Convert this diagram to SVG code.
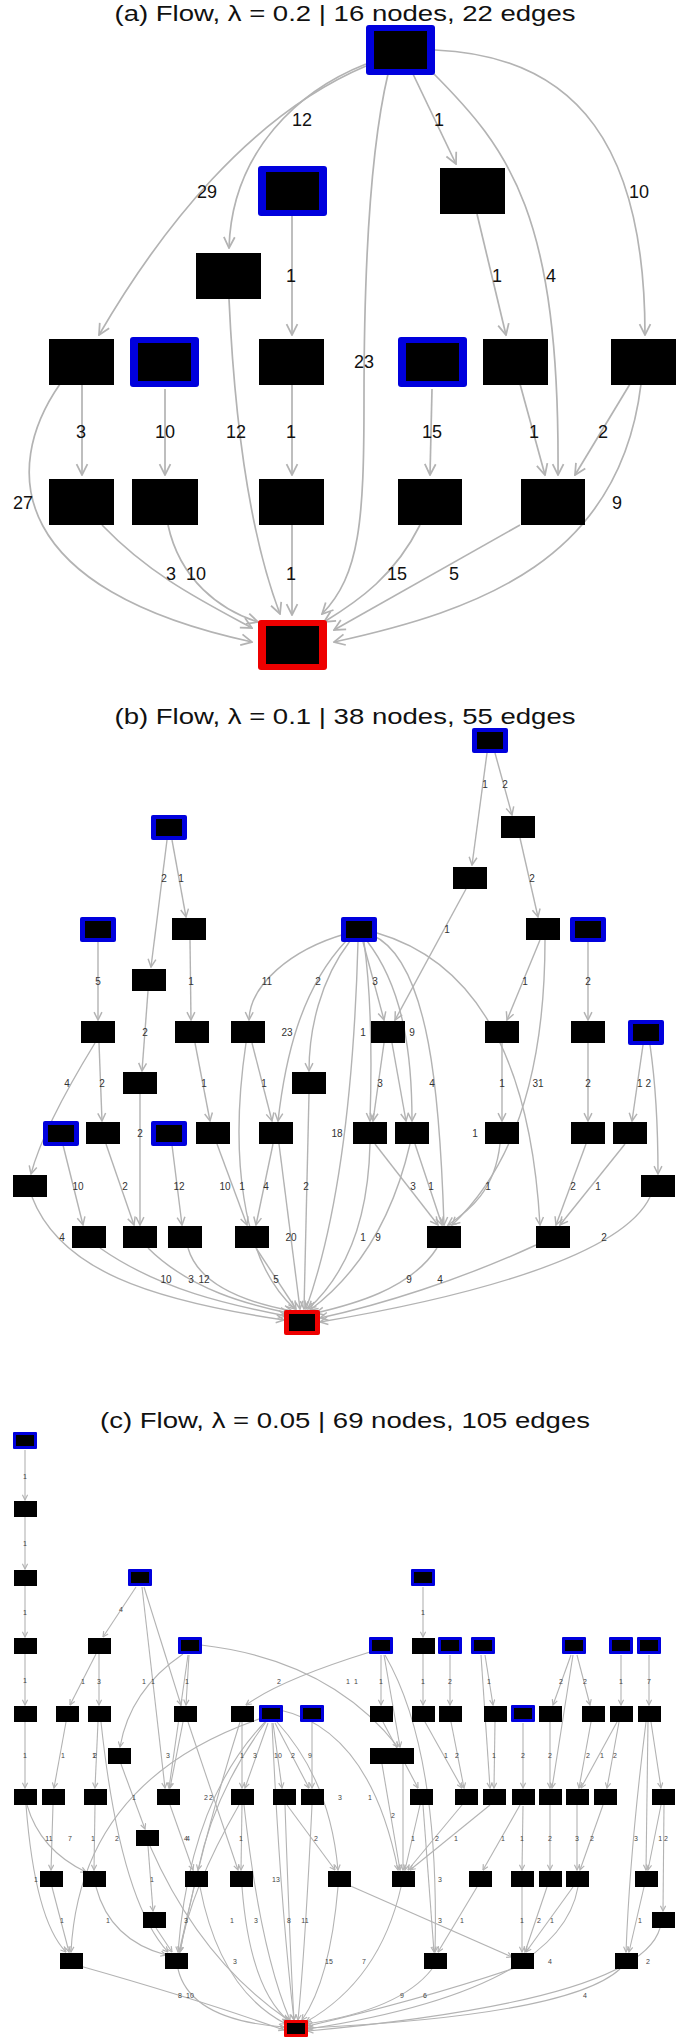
<svg xmlns="http://www.w3.org/2000/svg" width="691" height="2038" viewBox="0 0 691 2038">
<style>
.e{fill:none;stroke:#b3b3b3}
.ea{stroke-width:1.7;marker-end:url(#ma)}
.eb{stroke-width:1.4;marker-end:url(#mb)}
.ec{stroke-width:1.1;marker-end:url(#mc)}
text{font-family:"Liberation Sans",Arial,sans-serif;text-anchor:middle;dominant-baseline:central}
.t{font-size:22px;fill:#111}
.la{font-size:18px;fill:#111}
.lb{font-size:10px;fill:#333}
.lc{font-size:7px;fill:#444}
.k{fill:#000}
.bl{fill:#0000dd}
.rd{fill:#ee0000}
</style>
<defs>
<marker id="ma" viewBox="0 0 10 10" refX="9" refY="5" markerWidth="8" markerHeight="8" orient="auto" markerUnits="strokeWidth"><path d="M1,1 L9,5 L1,9" fill="none" stroke="#b3b3b3" stroke-width="1.3"/></marker>
<marker id="mb" viewBox="0 0 10 10" refX="9" refY="5" markerWidth="7" markerHeight="7" orient="auto" markerUnits="strokeWidth"><path d="M1,1 L9,5 L1,9" fill="none" stroke="#b3b3b3" stroke-width="1.5"/></marker>
<marker id="mc" viewBox="0 0 10 10" refX="9" refY="5" markerWidth="6" markerHeight="6" orient="auto" markerUnits="strokeWidth"><path d="M1,1 L9,5 L1,9" fill="none" stroke="#b3b3b3" stroke-width="1.8"/></marker>
</defs>
<rect width="691" height="2038" fill="#fff"/>
<text class="t" x="345" y="13" textLength="461" lengthAdjust="spacingAndGlyphs">(a) Flow, λ = 0.2 | 16 nodes, 22 edges</text>
<text class="t" x="345" y="716" textLength="461" lengthAdjust="spacingAndGlyphs">(b) Flow, λ = 0.1 | 38 nodes, 55 edges</text>
<text class="t" x="345" y="1420" textLength="490" lengthAdjust="spacingAndGlyphs">(c) Flow, λ = 0.05 | 69 nodes, 105 edges</text>

<g id="edges-a" class="e ea">
<path d="M366,64 C300,90 232,150 229,248"/>
<path d="M413,74 L456,164"/>
<path d="M366,66 C250,115 160,230 99,335"/>
<path d="M435,50 C580,56 645,150 645,335"/>
<path d="M388,74 C370,150 364,270 364,400 C364,520 360,575 322,614"/>
<path d="M432,72 C510,150 560,215 558,475"/>
<path d="M292,216 L292,335"/>
<path d="M229,299 C235,430 250,535 280,614"/>
<path d="M477,214 L506,335"/>
<path d="M82,384 L82,475"/>
<path d="M60,384 C0,470 10,590 252,642"/>
<path d="M165,389 L165,475"/>
<path d="M292,384 L292,475"/>
<path d="M432,389 L430,475"/>
<path d="M520,384 L545,475"/>
<path d="M630,384 L575,475"/>
<path d="M641,384 C620,560 480,610 334,642"/>
<path d="M102,525 C150,575 200,600 252,628"/>
<path d="M168,525 C180,580 220,610 258,622"/>
<path d="M292,525 L292,615"/>
<path d="M420,525 C395,575 360,600 324,622"/>
<path d="M520,525 L334,630"/>
</g>
<g id="labels-a" class="la">
<text x="302" y="120">12</text><text x="439" y="120">1</text><text x="207" y="192">29</text><text x="639" y="192">10</text>
<text x="291" y="276">1</text><text x="497" y="276">1</text><text x="551" y="276">4</text><text x="364" y="362">23</text>
<text x="81" y="432">3</text><text x="165" y="432">10</text><text x="236" y="432">12</text><text x="291" y="432">1</text>
<text x="432" y="432">15</text><text x="534" y="432">1</text><text x="603" y="432">2</text>
<text x="23" y="503">27</text><text x="617" y="503">9</text>
<text x="171" y="574">3</text><text x="196" y="574">10</text><text x="291" y="574">1</text><text x="397" y="574">15</text><text x="454" y="574">5</text>
</g>
<g id="a-top"><rect class="bl" x="366" y="25" width="69" height="50" rx="3"/><rect class="k" x="374" y="31" width="53" height="38"/></g>
<g id="a-b3"><rect class="bl" x="258" y="166" width="69" height="50" rx="3"/><rect class="k" x="266" y="172" width="53" height="38"/></g>
<g id="a-n472"><rect class="k" x="440" y="168" width="65" height="46"/></g>
<g id="a-n228"><rect class="k" x="196" y="253" width="65" height="46"/></g>
<g id="a-r1"><rect class="k" x="49" y="339" width="65" height="46"/></g>
<g id="a-r2"><rect class="bl" x="130" y="337" width="69" height="50" rx="3"/><rect class="k" x="138" y="343" width="53" height="38"/></g>
<g id="a-r3"><rect class="k" x="259" y="339" width="65" height="46"/></g>
<g id="a-r4"><rect class="bl" x="398" y="337" width="69" height="50" rx="3"/><rect class="k" x="406" y="343" width="53" height="38"/></g>
<g id="a-r5"><rect class="k" x="483" y="339" width="65" height="46"/></g>
<g id="a-r6"><rect class="k" x="611" y="339" width="65" height="46"/></g>
<g id="a-s1"><rect class="k" x="49" y="479" width="65" height="46"/></g>
<g id="a-s2"><rect class="k" x="132" y="479" width="66" height="46"/></g>
<g id="a-s3"><rect class="k" x="259" y="479" width="65" height="46"/></g>
<g id="a-s4"><rect class="k" x="398" y="479" width="64" height="46"/></g>
<g id="a-s5"><rect class="k" x="521" y="479" width="64" height="46"/></g>
<g id="a-sink"><rect class="rd" x="258" y="620" width="69" height="50" rx="3"/><rect class="k" x="266" y="626" width="53" height="38"/></g>

<g id="edges-b" class="e eb">
<path d="M487,753 L472,865"/><path d="M495,753 L512,815"/><path d="M167,840 L151,967"/><path d="M172,840 L186,917"/>
<path d="M520,838 L538,917"/><path d="M466,889 L395,1020"/><path d="M98,942 L98,1020"/><path d="M190,940 L191,1020"/>
<path d="M345,934 C290,950 250,985 249,1020"/><path d="M350,941 C320,980 309,1030 309,1071"/><path d="M363,942 L384,1020"/>
<path d="M540,940 L507,1020"/><path d="M588,942 L588,1020"/>
<path d="M346,941 C300,990 285,1060 278,1121"/><path d="M364,942 C372,1000 372,1060 370,1121"/>
<path d="M367,941 C405,990 412,1060 412,1121"/><path d="M372,935 C430,960 440,1100 444,1225"/>
<path d="M358,942 C355,1050 345,1200 306,1309"/><path d="M377,933 C470,960 530,1050 540,1225"/>
<path d="M545,940 C545,1100 500,1180 452,1225"/><path d="M588,1043 L588,1121"/><path d="M643,1045 L632,1121"/>
<path d="M650,1045 C658,1100 658,1150 658,1174"/><path d="M95,1043 C60,1100 40,1140 31,1174"/><path d="M99,1043 L102,1121"/>
<path d="M195,1043 L210,1121"/><path d="M252,1043 L272,1121"/><path d="M246,1043 C230,1150 240,1260 295,1309"/>
<path d="M392,1043 L406,1121"/><path d="M502,1043 L502,1121"/><path d="M148,991 L142,1071"/><path d="M140,1094 L140,1225"/>
<path d="M309,1094 L304,1309"/><path d="M63,1145 L83,1225"/><path d="M106,1144 L134,1225"/><path d="M172,1145 L182,1225"/>
<path d="M217,1144 L247,1225"/><path d="M273,1144 L256,1225"/><path d="M279,1144 L300,1309"/><path d="M375,1144 L438,1225"/>
<path d="M415,1144 L442,1225"/><path d="M500,1144 C495,1190 470,1210 448,1225"/><path d="M586,1144 L556,1225"/>
<path d="M625,1144 L560,1225"/><path d="M370,1144 C368,1230 340,1280 308,1309"/><path d="M410,1144 C390,1230 350,1280 310,1310"/>
<path d="M32,1197 C60,1270 150,1300 284,1320"/><path d="M100,1248 C160,1290 230,1305 286,1316"/>
<path d="M148,1248 C190,1290 250,1305 288,1313"/><path d="M188,1248 C200,1290 260,1305 292,1311"/>
<path d="M256,1248 L296,1309"/><path d="M437,1248 C410,1290 350,1305 316,1313"/><path d="M536,1245 C460,1280 380,1305 320,1318"/>
<path d="M650,1197 C620,1260 450,1300 320,1322"/><path d="M384,1043 L373,1121"/>
</g>
<g id="labels-b" class="lb">
<text x="485" y="784">1</text><text x="505" y="784">2</text><text x="164" y="878">2</text><text x="181" y="878">1</text><text x="532" y="878">2</text>
<text x="447" y="929">1</text><text x="98" y="981">5</text><text x="191" y="981">1</text><text x="267" y="981">11</text><text x="318" y="981">2</text>
<text x="375" y="981">3</text><text x="525" y="981">1</text><text x="588" y="981">2</text><text x="145" y="1032">2</text><text x="287" y="1032">23</text>
<text x="363" y="1032">1</text><text x="412" y="1032">9</text><text x="67" y="1083">4</text><text x="102" y="1083">2</text><text x="204" y="1083">1</text>
<text x="264" y="1083">1</text><text x="380" y="1083">3</text><text x="432" y="1083">4</text><text x="502" y="1083">1</text><text x="538" y="1083">31</text>
<text x="588" y="1083">2</text><text x="644" y="1083">1 2</text><text x="140" y="1133">2</text><text x="337" y="1133">18</text><text x="475" y="1133">1</text>
<text x="78" y="1186">10</text><text x="125" y="1186">2</text><text x="179" y="1186">12</text><text x="225" y="1186">10</text><text x="242" y="1186">1</text>
<text x="266" y="1186">4</text><text x="306" y="1186">2</text><text x="413" y="1186">3</text><text x="431" y="1186">1</text><text x="488" y="1186">1</text>
<text x="573" y="1186">2</text><text x="598" y="1186">1</text><text x="62" y="1237">4</text><text x="291" y="1237">20</text><text x="363" y="1237">1</text>
<text x="378" y="1237">9</text><text x="604" y="1237">2</text><text x="166" y="1279">10</text><text x="191" y="1279">3</text><text x="204" y="1279">12</text>
<text x="276" y="1279">5</text><text x="409" y="1279">9</text><text x="440" y="1279">4</text>
</g>
<g id="b-nodes">
<g id="b1"><rect class="bl" x="472" y="728" width="36" height="25" rx="2"/><rect class="k" x="477" y="732" width="26" height="17"/></g>
<g id="b2"><rect class="k" x="501" y="816" width="34" height="22"/></g>
<g id="b3"><rect class="bl" x="151" y="815" width="36" height="25" rx="2"/><rect class="k" x="156" y="819" width="26" height="17"/></g>
<g id="b4"><rect class="k" x="453" y="867" width="34" height="22"/></g>
<g id="b5"><rect class="bl" x="80" y="917" width="36" height="25" rx="2"/><rect class="k" x="85" y="921" width="26" height="17"/></g>
<g id="b6"><rect class="k" x="172" y="918" width="34" height="22"/></g>
<g id="b7"><rect class="bl" x="341" y="917" width="36" height="25" rx="2"/><rect class="k" x="346" y="921" width="26" height="17"/></g>
<g id="b8"><rect class="k" x="526" y="918" width="34" height="22"/></g>
<g id="b9"><rect class="bl" x="570" y="917" width="36" height="25" rx="2"/><rect class="k" x="575" y="921" width="26" height="17"/></g>
<g id="b10"><rect class="k" x="132" y="969" width="34" height="22"/></g>
<g id="b11"><rect class="k" x="81" y="1021" width="34" height="22"/></g>
<g id="b12"><rect class="k" x="175" y="1021" width="34" height="22"/></g>
<g id="b13"><rect class="k" x="231" y="1021" width="34" height="22"/></g>
<g id="b14"><rect class="k" x="371" y="1021" width="34" height="22"/></g>
<g id="b15"><rect class="k" x="485" y="1021" width="34" height="22"/></g>
<g id="b16"><rect class="k" x="571" y="1021" width="34" height="22"/></g>
<g id="b17"><rect class="bl" x="628" y="1020" width="36" height="25" rx="2"/><rect class="k" x="633" y="1024" width="26" height="17"/></g>
<g id="b18"><rect class="k" x="123" y="1072" width="34" height="22"/></g>
<g id="b19"><rect class="k" x="292" y="1072" width="34" height="22"/></g>
<g id="bm1"><rect class="bl" x="43" y="1121" width="36" height="25" rx="2"/><rect class="k" x="48" y="1125" width="26" height="17"/></g>
<g id="bm2"><rect class="k" x="86" y="1122" width="34" height="22"/></g>
<g id="bm3"><rect class="bl" x="151" y="1121" width="36" height="25" rx="2"/><rect class="k" x="156" y="1125" width="26" height="17"/></g>
<g id="bm4"><rect class="k" x="196" y="1122" width="34" height="22"/></g>
<g id="bm5"><rect class="k" x="259" y="1122" width="34" height="22"/></g>
<g id="bm6"><rect class="k" x="353" y="1122" width="34" height="22"/></g>
<g id="bm7"><rect class="k" x="395" y="1122" width="34" height="22"/></g>
<g id="bm8"><rect class="k" x="485" y="1122" width="34" height="22"/></g>
<g id="bm9"><rect class="k" x="571" y="1122" width="34" height="22"/></g>
<g id="bm10"><rect class="k" x="613" y="1122" width="34" height="22"/></g>
<g id="bp1"><rect class="k" x="13" y="1175" width="34" height="22"/></g>
<g id="bp2"><rect class="k" x="641" y="1175" width="34" height="22"/></g>
<g id="bq1"><rect class="k" x="72" y="1226" width="34" height="22"/></g>
<g id="bq2"><rect class="k" x="123" y="1226" width="34" height="22"/></g>
<g id="bq3"><rect class="k" x="168" y="1226" width="34" height="22"/></g>
<g id="bq4"><rect class="k" x="235" y="1226" width="34" height="22"/></g>
<g id="bq5"><rect class="k" x="427" y="1226" width="34" height="22"/></g>
<g id="bq6"><rect class="k" x="536" y="1226" width="34" height="22"/></g>
<g id="b-sink"><rect class="rd" x="284" y="1310" width="36" height="25" rx="2"/><rect class="k" x="289" y="1314" width="26" height="17"/></g>
</g>

<g id="edges-c" class="e ec">
<path d="M25,1450 L25,1500"/><path d="M25,1517 L25,1569"/><path d="M25,1586 L25,1637"/><path d="M25,1654 L25,1705"/><path d="M25,1722 L25,1788"/>
<path d="M27,1805 Q40,1850 86,1872"/><path d="M66,1722 L54,1788"/><path d="M53,1805 L51,1870"/><path d="M52,1887 L69,1952"/>
<path d="M136,1587 L103,1637"/><path d="M142,1587 L165,1788"/><path d="M144,1587 L181,1705"/><path d="M96,1654 L70,1705"/>
<path d="M99,1654 L99,1705"/><path d="M98,1722 L95,1788"/><path d="M101,1722 Q120,1900 168,1952"/><path d="M95,1805 L94,1870"/>
<path d="M96,1887 Q110,1940 166,1955"/><path d="M183,1654 Q130,1690 120,1747"/><path d="M189,1655 L186,1705"/><path d="M188,1655 L169,1788"/>
<path d="M201,1645 Q330,1660 398,1747"/><path d="M121,1764 L145,1829"/><path d="M183,1722 L170,1788"/><path d="M188,1722 L238,1870"/>
<path d="M170,1805 L193,1870"/><path d="M148,1846 L153,1911"/><path d="M150,1846 Q200,1960 288,2020"/><path d="M156,1928 L172,1952"/>
<path d="M370,1652 Q280,1680 246,1705"/><path d="M381,1655 L381,1705"/><path d="M384,1655 L400,1747"/><path d="M385,1655 Q440,1750 435,1952"/>
<path d="M423,1587 L423,1637"/><path d="M423,1654 L423,1705"/><path d="M425,1722 L462,1788"/><path d="M450,1655 L450,1705"/>
<path d="M451,1722 L464,1788"/><path d="M485,1655 L493,1705"/><path d="M481,1655 L490,1788"/><path d="M495,1722 L494,1788"/>
<path d="M523,1723 L523,1788"/><path d="M571,1655 L553,1705"/><path d="M573,1655 L552,1788"/><path d="M577,1655 L590,1705"/>
<path d="M550,1722 L550,1788"/><path d="M591,1722 L579,1788"/><path d="M617,1722 L581,1788"/><path d="M619,1722 L607,1788"/>
<path d="M621,1655 L621,1705"/><path d="M649,1655 L649,1705"/><path d="M648,1722 L646,1870"/><path d="M651,1722 L661,1788"/>
<path d="M646,1722 Q630,1850 626,1952"/><path d="M661,1805 L648,1870"/><path d="M664,1805 L663,1911"/><path d="M577,1805 L577,1870"/>
<path d="M603,1805 L580,1870"/><path d="M550,1805 L550,1870"/><path d="M520,1805 L483,1870"/><path d="M523,1806 L522,1870"/>
<path d="M462,1805 L408,1870"/><path d="M490,1805 L410,1870"/><path d="M420,1805 L405,1870"/><path d="M382,1764 L400,1870"/>
<path d="M403,1764 L403,1870"/><path d="M383,1722 L418,1788"/><path d="M268,1723 L245,1788"/><path d="M273,1723 L282,1788"/>
<path d="M275,1723 L309,1788"/><path d="M272,1723 Q280,1900 294,2020"/><path d="M277,1722 Q330,1780 338,1870"/>
<path d="M280,1710 Q370,1730 398,1870"/><path d="M265,1722 Q190,1800 178,1952"/><path d="M266,1722 Q215,1790 198,1870"/>
<path d="M262,1718 Q80,1780 71,1952"/><path d="M242,1722 L242,1788"/><path d="M240,1722 Q200,1850 180,1952"/><path d="M312,1723 L312,1788"/>
<path d="M287,1805 L335,1870"/><path d="M285,1805 Q290,1950 294,2020"/><path d="M312,1805 Q305,1950 298,2020"/><path d="M242,1805 L241,1870"/>
<path d="M239,1805 Q190,1890 180,1952"/><path d="M244,1805 Q260,1950 290,2020"/><path d="M242,1887 Q250,1990 290,2022"/>
<path d="M194,1887 L179,1952"/><path d="M200,1887 Q220,1990 286,2024"/><path d="M346,1884 L512,1957"/><path d="M338,1887 Q330,1980 302,2020"/>
<path d="M401,1887 Q380,1980 306,2022"/><path d="M477,1887 L438,1952"/><path d="M522,1887 L522,1952"/><path d="M547,1887 L525,1952"/>
<path d="M573,1887 L526,1952"/><path d="M578,1887 Q560,1990 308,2029"/><path d="M644,1887 L629,1952"/><path d="M660,1928 Q640,2000 308,2031"/>
<path d="M620,1969 Q570,2015 308,2028"/><path d="M515,1968 Q420,2000 308,2026"/><path d="M432,1969 Q400,2010 306,2024"/>
<path d="M178,1969 Q190,2020 284,2027"/><path d="M80,1966 Q200,2000 284,2030"/><path d="M423,1805 L434,1952"/><path d="M26,1805 Q35,1920 66,1952"/>
</g>
<g id="labels-c" class="lc">
<text x="25" y="1476">1</text><text x="25" y="1543">1</text><text x="25" y="1612">1</text><text x="25" y="1680">1</text><text x="25" y="1755">1</text>
<text x="49" y="1838">11</text><text x="63" y="1755">1</text><text x="70" y="1838">7</text><text x="62" y="1920">1</text><text x="121" y="1609">4</text>
<text x="144" y="1681">1</text><text x="153" y="1681">1</text><text x="83" y="1681">1</text><text x="99" y="1681">3</text><text x="95" y="1755">2</text>
<text x="117" y="1838">2</text><text x="93" y="1838">1</text><text x="108" y="1920">1</text><text x="168" y="1755">3</text><text x="187" y="1681">1</text>
<text x="279" y="1681">2</text><text x="134" y="1797">1</text><text x="94" y="1755">1</text><text x="211" y="1797">2</text><text x="186" y="1838">4</text>
<text x="152" y="1879">1</text><text x="235" y="1961">3</text><text x="348" y="1681">1</text><text x="356" y="1681">1</text><text x="381" y="1681">1</text>
<text x="423" y="1612">1</text><text x="423" y="1681">1</text><text x="450" y="1681">2</text><text x="446" y="1755">1</text><text x="457" y="1755">2</text>
<text x="489" y="1681">1</text><text x="494" y="1755">1</text><text x="523" y="1755">2</text><text x="561" y="1681">2</text><text x="585" y="1681">2</text>
<text x="550" y="1755">2</text><text x="588" y="1755">2</text><text x="602" y="1755">1</text><text x="615" y="1755">2</text><text x="621" y="1681">1</text>
<text x="649" y="1681">7</text><text x="636" y="1838">3</text><text x="663" y="1838">1 2</text><text x="577" y="1838">3</text><text x="592" y="1838">2</text>
<text x="550" y="1838">2</text><text x="503" y="1838">1</text><text x="522" y="1838">1</text><text x="437" y="1838">2</text><text x="456" y="1838">1</text>
<text x="413" y="1838">1</text><text x="393" y="1815">2</text><text x="403" y="1755">1</text><text x="242" y="1755">1</text><text x="255" y="1755">3</text>
<text x="278" y="1755">10</text><text x="293" y="1755">2</text><text x="276" y="1879">13</text><text x="340" y="1797">3</text><text x="370" y="1797">1</text>
<text x="188" y="1838">4</text><text x="206" y="1797">2</text><text x="310" y="1755">9</text><text x="316" y="1838">2</text><text x="289" y="1920">8</text>
<text x="305" y="1920">11</text><text x="241" y="1838">1</text><text x="256" y="1920">3</text><text x="232" y="1920">1</text><text x="186" y="1920">3</text>
<text x="440" y="1920">3</text><text x="329" y="1961">15</text><text x="364" y="1961">7</text><text x="462" y="1920">1</text><text x="522" y="1920">1</text>
<text x="539" y="1920">2</text><text x="552" y="1920">1</text><text x="640" y="1920">1</text><text x="550" y="1961">4</text><text x="648" y="1961">2</text>
<text x="585" y="1995">4</text><text x="425" y="1995">6</text><text x="402" y="1995">9</text><text x="190" y="1995">10</text><text x="180" y="1995">8</text>
<text x="440" y="1879">3</text><text x="36" y="1879">1</text>
</g>
<g id="c-nodes">
<g id="c1"><rect class="bl" x="13" y="1432" width="24" height="17" rx="1"/><rect class="k" x="16" y="1435" width="18" height="11"/></g>
<g id="c2"><rect class="k" x="14" y="1501" width="23" height="16"/></g>
<g id="c3"><rect class="k" x="14" y="1570" width="23" height="16"/></g>
<g id="c4"><rect class="bl" x="128" y="1569" width="24" height="17" rx="1"/><rect class="k" x="131" y="1572" width="18" height="11"/></g>
<g id="c5"><rect class="bl" x="411" y="1569" width="24" height="17" rx="1"/><rect class="k" x="414" y="1572" width="18" height="11"/></g>
<g id="c6"><rect class="k" x="14" y="1638" width="23" height="16"/></g>
<g id="c7"><rect class="k" x="88" y="1638" width="23" height="16"/></g>
<g id="c8"><rect class="bl" x="178" y="1637" width="24" height="17" rx="1"/><rect class="k" x="181" y="1640" width="18" height="11"/></g>
<g id="c9"><rect class="bl" x="369" y="1637" width="24" height="17" rx="1"/><rect class="k" x="372" y="1640" width="18" height="11"/></g>
<g id="c10"><rect class="k" x="412" y="1638" width="23" height="16"/></g>
<g id="c11"><rect class="bl" x="438" y="1637" width="24" height="17" rx="1"/><rect class="k" x="441" y="1640" width="18" height="11"/></g>
<g id="c12"><rect class="bl" x="471" y="1637" width="24" height="17" rx="1"/><rect class="k" x="474" y="1640" width="18" height="11"/></g>
<g id="c13"><rect class="bl" x="562" y="1637" width="24" height="17" rx="1"/><rect class="k" x="565" y="1640" width="18" height="11"/></g>
<g id="c14"><rect class="bl" x="609" y="1637" width="24" height="17" rx="1"/><rect class="k" x="612" y="1640" width="18" height="11"/></g>
<g id="c15"><rect class="bl" x="637" y="1637" width="24" height="17" rx="1"/><rect class="k" x="640" y="1640" width="18" height="11"/></g>
<g id="c16"><rect class="k" x="14" y="1706" width="23" height="16"/></g>
<g id="c17"><rect class="k" x="56" y="1706" width="23" height="16"/></g>
<g id="c18"><rect class="k" x="88" y="1706" width="23" height="16"/></g>
<g id="c19"><rect class="k" x="174" y="1706" width="23" height="16"/></g>
<g id="c20"><rect class="k" x="231" y="1706" width="23" height="16"/></g>
<g id="c21"><rect class="bl" x="259" y="1705" width="24" height="17" rx="1"/><rect class="k" x="262" y="1708" width="18" height="11"/></g>
<g id="c22"><rect class="bl" x="300" y="1705" width="24" height="17" rx="1"/><rect class="k" x="303" y="1708" width="18" height="11"/></g>
<g id="c23"><rect class="k" x="370" y="1706" width="23" height="16"/></g>
<g id="c24"><rect class="k" x="412" y="1706" width="23" height="16"/></g>
<g id="c25"><rect class="k" x="439" y="1706" width="23" height="16"/></g>
<g id="c26"><rect class="k" x="484" y="1706" width="23" height="16"/></g>
<g id="c27"><rect class="bl" x="511" y="1705" width="24" height="17" rx="1"/><rect class="k" x="514" y="1708" width="18" height="11"/></g>
<g id="c28"><rect class="k" x="539" y="1706" width="23" height="16"/></g>
<g id="c29"><rect class="k" x="582" y="1706" width="23" height="16"/></g>
<g id="c30"><rect class="k" x="610" y="1706" width="23" height="16"/></g>
<g id="c31"><rect class="k" x="638" y="1706" width="23" height="16"/></g>
<g id="c32"><rect class="k" x="108" y="1748" width="23" height="16"/></g>
<g id="c33"><rect class="k" x="370" y="1748" width="22" height="16"/></g>
<g id="c34"><rect class="k" x="392" y="1748" width="22" height="16"/></g>
<g id="c35"><rect class="k" x="14" y="1789" width="23" height="16"/></g>
<g id="c36"><rect class="k" x="42" y="1789" width="23" height="16"/></g>
<g id="c37"><rect class="k" x="84" y="1789" width="23" height="16"/></g>
<g id="c38"><rect class="k" x="157" y="1789" width="23" height="16"/></g>
<g id="c39"><rect class="k" x="231" y="1789" width="23" height="16"/></g>
<g id="c40"><rect class="k" x="273" y="1789" width="23" height="16"/></g>
<g id="c41"><rect class="k" x="301" y="1789" width="23" height="16"/></g>
<g id="c42"><rect class="k" x="410" y="1789" width="23" height="16"/></g>
<g id="c43"><rect class="k" x="455" y="1789" width="23" height="16"/></g>
<g id="c44"><rect class="k" x="483" y="1789" width="23" height="16"/></g>
<g id="c45"><rect class="k" x="512" y="1789" width="23" height="16"/></g>
<g id="c46"><rect class="k" x="539" y="1789" width="23" height="16"/></g>
<g id="c47"><rect class="k" x="566" y="1789" width="23" height="16"/></g>
<g id="c48"><rect class="k" x="594" y="1789" width="23" height="16"/></g>
<g id="c49"><rect class="k" x="652" y="1789" width="23" height="16"/></g>
<g id="c50"><rect class="k" x="136" y="1830" width="23" height="16"/></g>
<g id="c51"><rect class="k" x="40" y="1871" width="23" height="16"/></g>
<g id="c52"><rect class="k" x="83" y="1871" width="23" height="16"/></g>
<g id="c53"><rect class="k" x="185" y="1871" width="23" height="16"/></g>
<g id="c54"><rect class="k" x="230" y="1871" width="23" height="16"/></g>
<g id="c55"><rect class="k" x="328" y="1871" width="23" height="16"/></g>
<g id="c56"><rect class="k" x="392" y="1871" width="23" height="16"/></g>
<g id="c57"><rect class="k" x="469" y="1871" width="23" height="16"/></g>
<g id="c58"><rect class="k" x="511" y="1871" width="23" height="16"/></g>
<g id="c59"><rect class="k" x="539" y="1871" width="23" height="16"/></g>
<g id="c60"><rect class="k" x="566" y="1871" width="23" height="16"/></g>
<g id="c61"><rect class="k" x="635" y="1871" width="23" height="16"/></g>
<g id="c62"><rect class="k" x="143" y="1912" width="23" height="16"/></g>
<g id="c63"><rect class="k" x="652" y="1912" width="23" height="16"/></g>
<g id="c64"><rect class="k" x="60" y="1953" width="23" height="16"/></g>
<g id="c65"><rect class="k" x="165" y="1953" width="23" height="16"/></g>
<g id="c66"><rect class="k" x="424" y="1953" width="23" height="16"/></g>
<g id="c67"><rect class="k" x="511" y="1953" width="23" height="16"/></g>
<g id="c68"><rect class="k" x="615" y="1953" width="23" height="16"/></g>
<g id="c-sink"><rect class="rd" x="284" y="2020" width="24" height="17" rx="1"/><rect class="k" x="287" y="2023" width="18" height="11"/></g>
</g>
</svg>
